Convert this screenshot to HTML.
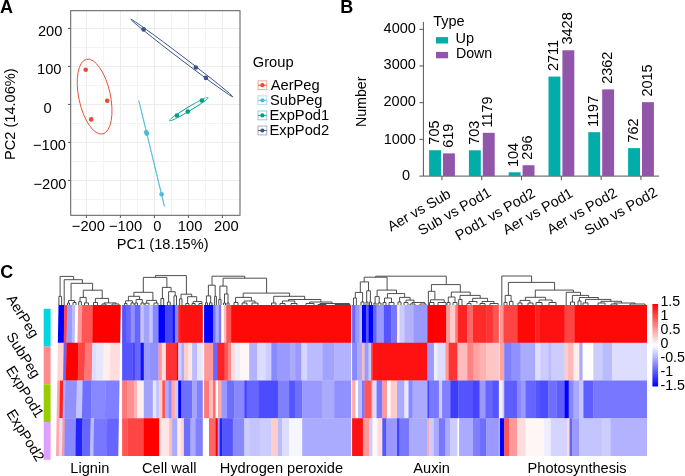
<!DOCTYPE html><html><head><meta charset="utf-8"><style>html,body{margin:0;padding:0;background:#fff;overflow:hidden}svg{display:block;font-family:"Liberation Sans",sans-serif;will-change:transform}</style></head><body>
<svg width="685" height="476" viewBox="0 0 685 476">
<rect width="685" height="476" fill="#fff"/>
<text x="-0.10" y="12.55" font-size="18" font-weight="bold" fill="#000" >A</text>
<line x1="103.50" y1="10.70" x2="103.50" y2="215.30" stroke="#F3F3F3" stroke-width="1" />
<line x1="137.50" y1="10.70" x2="137.50" y2="215.30" stroke="#F3F3F3" stroke-width="1" />
<line x1="171.50" y1="10.70" x2="171.50" y2="215.30" stroke="#F3F3F3" stroke-width="1" />
<line x1="205.50" y1="10.70" x2="205.50" y2="215.30" stroke="#F3F3F3" stroke-width="1" />
<line x1="70.70" y1="199.50" x2="240.00" y2="199.50" stroke="#F3F3F3" stroke-width="1" />
<line x1="70.70" y1="161.50" x2="240.00" y2="161.50" stroke="#F3F3F3" stroke-width="1" />
<line x1="70.70" y1="123.50" x2="240.00" y2="123.50" stroke="#F3F3F3" stroke-width="1" />
<line x1="70.70" y1="85.50" x2="240.00" y2="85.50" stroke="#F3F3F3" stroke-width="1" />
<line x1="70.70" y1="47.50" x2="240.00" y2="47.50" stroke="#F3F3F3" stroke-width="1" />
<line x1="86.50" y1="10.70" x2="86.50" y2="215.30" stroke="#ECECEC" stroke-width="1" />
<line x1="70.70" y1="180.50" x2="240.00" y2="180.50" stroke="#ECECEC" stroke-width="1" />
<line x1="120.50" y1="10.70" x2="120.50" y2="215.30" stroke="#ECECEC" stroke-width="1" />
<line x1="70.70" y1="142.50" x2="240.00" y2="142.50" stroke="#ECECEC" stroke-width="1" />
<line x1="154.50" y1="10.70" x2="154.50" y2="215.30" stroke="#ECECEC" stroke-width="1" />
<line x1="70.70" y1="104.50" x2="240.00" y2="104.50" stroke="#ECECEC" stroke-width="1" />
<line x1="188.50" y1="10.70" x2="188.50" y2="215.30" stroke="#ECECEC" stroke-width="1" />
<line x1="70.70" y1="66.50" x2="240.00" y2="66.50" stroke="#ECECEC" stroke-width="1" />
<line x1="222.50" y1="10.70" x2="222.50" y2="215.30" stroke="#ECECEC" stroke-width="1" />
<line x1="70.70" y1="28.50" x2="240.00" y2="28.50" stroke="#ECECEC" stroke-width="1" />
<rect x="70.7" y="10.7" width="169.30" height="204.60" fill="none" stroke="#5a5a5a" stroke-width="1"/>
<line x1="68.00" y1="180.40" x2="70.70" y2="180.40" stroke="#555" stroke-width="1" />
<line x1="86.40" y1="215.30" x2="86.40" y2="218.00" stroke="#555" stroke-width="1" />
<line x1="68.00" y1="142.40" x2="70.70" y2="142.40" stroke="#555" stroke-width="1" />
<line x1="120.40" y1="215.30" x2="120.40" y2="218.00" stroke="#555" stroke-width="1" />
<line x1="68.00" y1="104.40" x2="70.70" y2="104.40" stroke="#555" stroke-width="1" />
<line x1="154.40" y1="215.30" x2="154.40" y2="218.00" stroke="#555" stroke-width="1" />
<line x1="68.00" y1="66.40" x2="70.70" y2="66.40" stroke="#555" stroke-width="1" />
<line x1="188.40" y1="215.30" x2="188.40" y2="218.00" stroke="#555" stroke-width="1" />
<line x1="68.00" y1="28.40" x2="70.70" y2="28.40" stroke="#555" stroke-width="1" />
<line x1="222.40" y1="215.30" x2="222.40" y2="218.00" stroke="#555" stroke-width="1" />
<text x="37.95" y="35.75" font-size="14.7" fill="#000" >200</text>
<text x="37.02" y="74.00" font-size="14.7" fill="#000" >100</text>
<text x="43.55" y="112.65" font-size="14.7" fill="#000" >0</text>
<text x="32.90" y="150.40" font-size="14.7" fill="#000" >−100</text>
<text x="33.45" y="188.70" font-size="14.7" fill="#000" >−200</text>
<text x="71.85" y="230.85" font-size="14.7" fill="#000" >−200</text>
<text x="109.05" y="230.85" font-size="14.7" fill="#000" >−100</text>
<text x="153.30" y="230.85" font-size="14.7" fill="#000" >0</text>
<text x="177.87" y="230.85" font-size="14.7" fill="#000" >100</text>
<text x="214.05" y="230.85" font-size="14.7" fill="#000" >200</text>
<text x="116.86" y="249.24" font-size="14.6" fill="#000" >PC1 (18.15%)</text>
<text x="-45.99" y="3.78" font-size="14.6" transform="translate(11.25 114.00) rotate(-90)">PC2 (14.06%)</text>
<ellipse cx="94.60" cy="96.60" rx="38.20" ry="15.80" fill="none" stroke="#E64B35" stroke-width="0.9" transform="rotate(77.90 94.60 96.60)"/>
<circle cx="85.7" cy="69.8" r="2.3" fill="#E64B35"/>
<circle cx="107.2" cy="100.7" r="2.3" fill="#E64B35"/>
<circle cx="91.2" cy="119.4" r="2.3" fill="#E64B35"/>
<ellipse cx="181.90" cy="58.10" rx="64.00" ry="1.75" fill="none" stroke="#3C5488" stroke-width="0.9" transform="rotate(37.25 181.90 58.10)"/>
<circle cx="143.6" cy="29.4" r="2.3" fill="#3C5488"/>
<circle cx="195.9" cy="67.5" r="2.3" fill="#3C5488"/>
<circle cx="205.9" cy="77.9" r="2.3" fill="#3C5488"/>
<ellipse cx="188.85" cy="109.05" rx="22.40" ry="1.90" fill="none" stroke="#00A087" stroke-width="0.9" transform="rotate(-31.10 188.85 109.05)"/>
<circle cx="176.9" cy="115.5" r="2.3" fill="#00A087"/>
<circle cx="187.8" cy="111.6" r="2.3" fill="#00A087"/>
<circle cx="201.9" cy="100.5" r="2.3" fill="#00A087"/>
<ellipse cx="151.65" cy="153.55" rx="54.58" ry="0.10" fill="none" stroke="#4DBBD5" stroke-width="0.7" transform="rotate(76.38 151.65 153.55)"/>
<circle cx="146.2" cy="132.2" r="2.3" fill="#4DBBD5"/>
<circle cx="146.9" cy="133.6" r="2.3" fill="#4DBBD5"/>
<circle cx="161.6" cy="194.2" r="2.3" fill="#4DBBD5"/>
<text x="252.81" y="66.80" font-size="14.7" fill="#000" >Group</text>
<rect x="258.0" y="80.80" width="8.8" height="8.8" fill="none" stroke="#E64B35" stroke-opacity="0.5" stroke-width="0.9"/>
<line x1="258.00" y1="85.20" x2="266.80" y2="85.20" stroke="#E64B35" stroke-width="0.9" />
<circle cx="262.4" cy="85.20" r="2.1" fill="#E64B35"/>
<text x="270.71" y="89.90" font-size="14.7" fill="#000" >AerPeg</text>
<rect x="258.0" y="95.90" width="8.8" height="8.8" fill="none" stroke="#4DBBD5" stroke-opacity="0.5" stroke-width="0.9"/>
<line x1="258.00" y1="100.30" x2="266.80" y2="100.30" stroke="#4DBBD5" stroke-width="0.9" />
<circle cx="262.4" cy="100.30" r="2.1" fill="#4DBBD5"/>
<text x="270.09" y="105.00" font-size="14.7" fill="#000" >SubPeg</text>
<rect x="258.0" y="111.00" width="8.8" height="8.8" fill="none" stroke="#00A087" stroke-opacity="0.5" stroke-width="0.9"/>
<line x1="258.00" y1="115.40" x2="266.80" y2="115.40" stroke="#00A087" stroke-width="0.9" />
<circle cx="262.4" cy="115.40" r="2.1" fill="#00A087"/>
<text x="269.54" y="120.10" font-size="14.7" fill="#000" >ExpPod1</text>
<rect x="258.0" y="126.10" width="8.8" height="8.8" fill="none" stroke="#3C5488" stroke-opacity="0.5" stroke-width="0.9"/>
<line x1="258.00" y1="130.50" x2="266.80" y2="130.50" stroke="#3C5488" stroke-width="0.9" />
<circle cx="262.4" cy="130.50" r="2.1" fill="#3C5488"/>
<text x="269.54" y="135.20" font-size="14.7" fill="#000" >ExpPod2</text>
<text x="340.14" y="12.75" font-size="18" font-weight="bold" fill="#000" >B</text>
<line x1="423.40" y1="21.90" x2="423.40" y2="176.10" stroke="#555" stroke-width="1" />
<line x1="423.40" y1="176.10" x2="659.00" y2="176.10" stroke="#555" stroke-width="1" />
<line x1="419.40" y1="29.30" x2="423.40" y2="29.30" stroke="#555" stroke-width="1" />
<text x="383.60" y="33.23" font-size="14.5" fill="#000" >4000</text>
<line x1="419.40" y1="66.00" x2="423.40" y2="66.00" stroke="#555" stroke-width="1" />
<text x="383.59" y="69.43" font-size="14.5" fill="#000" >3000</text>
<line x1="419.40" y1="102.70" x2="423.40" y2="102.70" stroke="#555" stroke-width="1" />
<text x="383.50" y="106.23" font-size="14.5" fill="#000" >2000</text>
<line x1="419.40" y1="139.40" x2="423.40" y2="139.40" stroke="#555" stroke-width="1" />
<text x="383.67" y="143.63" font-size="14.5" fill="#000" >1000</text>
<line x1="419.40" y1="176.10" x2="423.40" y2="176.10" stroke="#555" stroke-width="1" />
<text x="402.06" y="180.33" font-size="14.5" fill="#000" >0</text>
<rect x="429.10" y="150.23" width="11.90" height="25.87" fill="#00ADA8" />
<rect x="443.00" y="153.38" width="11.90" height="22.72" fill="#9155AA" />
<line x1="441.95" y1="176.10" x2="441.95" y2="180.10" stroke="#555" stroke-width="1" />
<text x="-12.18" y="4.98" font-size="14.5" transform="translate(433.75 132.51) rotate(-90)">705</text>
<text x="-12.13" y="4.98" font-size="14.5" transform="translate(447.65 135.68) rotate(-90)">619</text>
<rect x="468.90" y="150.30" width="11.90" height="25.80" fill="#00ADA8" />
<rect x="482.80" y="132.83" width="11.90" height="43.27" fill="#9155AA" />
<line x1="481.75" y1="176.10" x2="481.75" y2="180.10" stroke="#555" stroke-width="1" />
<text x="-12.16" y="4.98" font-size="14.5" transform="translate(473.55 132.60) rotate(-90)">703</text>
<text x="-15.81" y="4.98" font-size="14.5" transform="translate(487.45 111.81) rotate(-90)">1179</text>
<rect x="508.70" y="172.28" width="11.90" height="3.82" fill="#00ADA8" />
<rect x="522.60" y="165.24" width="11.90" height="10.86" fill="#9155AA" />
<line x1="521.55" y1="176.10" x2="521.55" y2="180.10" stroke="#555" stroke-width="1" />
<text x="-12.43" y="4.98" font-size="14.5" transform="translate(513.35 154.64) rotate(-90)">104</text>
<text x="-12.14" y="4.98" font-size="14.5" transform="translate(527.25 147.52) rotate(-90)">296</text>
<rect x="548.50" y="76.61" width="11.90" height="99.49" fill="#00ADA8" />
<rect x="562.40" y="50.29" width="11.90" height="125.81" fill="#9155AA" />
<line x1="561.35" y1="176.10" x2="561.35" y2="180.10" stroke="#555" stroke-width="1" />
<text x="-15.61" y="5.06" font-size="14.5" transform="translate(553.15 55.43) rotate(-90)">2711</text>
<text x="-16.08" y="4.98" font-size="14.5" transform="translate(567.05 28.46) rotate(-90)">3428</text>
<rect x="588.30" y="132.17" width="11.90" height="43.93" fill="#00ADA8" />
<rect x="602.20" y="89.41" width="11.90" height="86.69" fill="#9155AA" />
<line x1="601.15" y1="176.10" x2="601.15" y2="180.10" stroke="#555" stroke-width="1" />
<text x="-15.77" y="4.98" font-size="14.5" transform="translate(592.95 111.19) rotate(-90)">1197</text>
<text x="-16.11" y="4.98" font-size="14.5" transform="translate(606.85 67.73) rotate(-90)">2362</text>
<rect x="628.10" y="148.13" width="11.90" height="27.97" fill="#00ADA8" />
<rect x="642.00" y="102.15" width="11.90" height="73.95" fill="#9155AA" />
<line x1="640.95" y1="176.10" x2="640.95" y2="180.10" stroke="#555" stroke-width="1" />
<text x="-12.11" y="4.98" font-size="14.5" transform="translate(632.75 130.49) rotate(-90)">762</text>
<text x="-16.19" y="4.98" font-size="14.5" transform="translate(646.65 80.39) rotate(-90)">2015</text>
<text x="-34.82" y="5.13" font-size="14.35" transform="translate(418.60 209.95) rotate(-30)">Aer vs Sub</text>
<text x="-40.66" y="5.13" font-size="14.35" transform="translate(454.25 211.05) rotate(-30)">Sub vs Pod1</text>
<text x="-44.90" y="5.13" font-size="14.35" transform="translate(495.00 213.75) rotate(-30)">Pod1 vs Pod2</text>
<text x="-38.75" y="5.13" font-size="14.35" transform="translate(537.30 211.25) rotate(-30)">Aer vs Pod1</text>
<text x="-38.73" y="5.13" font-size="14.35" transform="translate(581.35 210.90) rotate(-30)">Aer vs Pod2</text>
<text x="-40.65" y="5.13" font-size="14.35" transform="translate(620.60 211.00) rotate(-30)">Sub vs Pod2</text>
<text x="-25.72" y="5.08" font-size="14.2" transform="translate(361.35 101.30) rotate(-90)">Number</text>
<text x="433.22" y="25.72" font-size="14.5" fill="#000" >Type</text>
<rect x="436.00" y="37.10" width="12.10" height="6.40" fill="#00ADA8" />
<text x="455.43" y="42.72" font-size="14.5" fill="#000" >Up</text>
<rect x="436.00" y="51.90" width="12.10" height="6.40" fill="#9155AA" />
<text x="455.98" y="58.41" font-size="14.2" fill="#000" >Down</text>
<g transform="translate(0,305) skewX(-0.95) translate(0,-305)"><rect x="58.50" y="305.00" width="6.10" height="38.05" fill="#0000ff"/><rect x="64.30" y="305.00" width="3.10" height="38.05" fill="#ff4444"/><rect x="67.10" y="305.00" width="5.60" height="38.05" fill="#9999ff"/><rect x="72.40" y="305.00" width="3.20" height="38.05" fill="#bbbbff"/><rect x="75.30" y="305.00" width="3.10" height="38.05" fill="#ffffff"/><rect x="78.10" y="305.00" width="4.40" height="38.05" fill="#ff9999"/><rect x="82.20" y="305.00" width="11.00" height="38.05" fill="#ff5555"/><rect x="92.90" y="305.00" width="27.90" height="38.05" fill="#ff0000"/></g>
<rect x="122.10" y="305.00" width="4.80" height="38.05" fill="#5555ff"/><rect x="126.60" y="305.00" width="4.40" height="38.05" fill="#6666ff"/><rect x="130.70" y="305.00" width="4.40" height="38.05" fill="#9090ff"/><rect x="134.80" y="305.00" width="6.00" height="38.05" fill="#6666ff"/><rect x="140.50" y="305.00" width="3.60" height="38.05" fill="#c4c4ff"/><rect x="143.80" y="305.00" width="6.00" height="38.05" fill="#a2a2ff"/><rect x="149.50" y="305.00" width="3.60" height="38.05" fill="#c4c4ff"/><rect x="152.80" y="305.00" width="6.00" height="38.05" fill="#8888ff"/><rect x="158.50" y="305.00" width="6.90" height="38.05" fill="#0000ff"/><rect x="165.10" y="305.00" width="7.70" height="38.05" fill="#4444ff"/><rect x="172.50" y="305.00" width="2.70" height="38.05" fill="#1111ff"/><rect x="174.90" y="305.00" width="3.60" height="38.05" fill="#8888ff"/><rect x="178.20" y="305.00" width="2.80" height="38.05" fill="#ff2222"/><rect x="180.70" y="305.00" width="22.10" height="38.05" fill="#ff1111"/>
<rect x="204.10" y="305.00" width="9.30" height="38.05" fill="#0000ff"/><rect x="213.10" y="305.00" width="2.80" height="38.05" fill="#7777ff"/><rect x="215.60" y="305.00" width="3.60" height="38.05" fill="#aaaaff"/><rect x="218.90" y="305.00" width="2.70" height="38.05" fill="#7777ff"/><rect x="221.30" y="305.00" width="2.80" height="38.05" fill="#ffffff"/><rect x="223.80" y="305.00" width="2.70" height="38.05" fill="#ffbbbb"/><rect x="226.20" y="305.00" width="5.20" height="38.05" fill="#ff5555"/><rect x="231.10" y="305.00" width="120.00" height="38.05" fill="#ff0808"/>
<rect x="352.10" y="305.00" width="3.70" height="38.05" fill="#6666ff"/><rect x="355.50" y="305.00" width="4.40" height="38.05" fill="#9999ff"/><rect x="359.60" y="305.00" width="2.70" height="38.05" fill="#bbbbff"/><rect x="362.00" y="305.00" width="4.40" height="38.05" fill="#0000ff"/><rect x="366.10" y="305.00" width="2.80" height="38.05" fill="#5555ff"/><rect x="368.60" y="305.00" width="5.00" height="38.05" fill="#0000ff"/><rect x="373.30" y="305.00" width="3.60" height="38.05" fill="#6666ff"/><rect x="376.60" y="305.00" width="7.60" height="38.05" fill="#9999ff"/><rect x="383.90" y="305.00" width="7.70" height="38.05" fill="#5555ff"/><rect x="391.30" y="305.00" width="6.00" height="38.05" fill="#7777ff"/><rect x="397.00" y="305.00" width="2.80" height="38.05" fill="#ffeeee"/><rect x="399.50" y="305.00" width="5.20" height="38.05" fill="#ccccff"/><rect x="404.40" y="305.00" width="9.30" height="38.05" fill="#b2b2ff"/><rect x="413.40" y="305.00" width="14.30" height="38.05" fill="#9999ff"/><rect x="427.40" y="305.00" width="19.10" height="38.05" fill="#ff0000"/><rect x="446.20" y="305.00" width="4.40" height="38.05" fill="#ff9999"/><rect x="450.30" y="305.00" width="5.20" height="38.05" fill="#ffcccc"/><rect x="455.20" y="305.00" width="3.10" height="38.05" fill="#ff7777"/><rect x="458.00" y="305.00" width="9.60" height="38.05" fill="#ff2222"/><rect x="467.30" y="305.00" width="6.00" height="38.05" fill="#ff6666"/><rect x="473.00" y="305.00" width="13.40" height="38.05" fill="#ff2a2a"/><rect x="486.10" y="305.00" width="6.90" height="38.05" fill="#ff3333"/><rect x="492.70" y="305.00" width="6.20" height="38.05" fill="#ff5555"/>
<rect x="499.70" y="305.00" width="4.00" height="38.05" fill="#ff9999"/><rect x="503.40" y="305.00" width="14.20" height="38.05" fill="#ff4444"/><rect x="517.30" y="305.00" width="18.30" height="38.05" fill="#ff0808"/><rect x="535.30" y="305.00" width="5.00" height="38.05" fill="#ff2222"/><rect x="540.00" y="305.00" width="24.90" height="38.05" fill="#ff1111"/><rect x="564.60" y="305.00" width="10.10" height="38.05" fill="#ff4444"/><rect x="574.40" y="305.00" width="72.60" height="38.05" fill="#ff0808"/>
<g transform="translate(0,305) skewX(-0.95) translate(0,-305)"><rect x="58.50" y="342.75" width="6.10" height="38.05" fill="#ffd4d4"/><rect x="64.30" y="342.75" width="3.10" height="38.05" fill="#6666ff"/><rect x="67.10" y="342.75" width="12.20" height="38.05" fill="#ff0000"/><rect x="79.00" y="342.75" width="6.90" height="38.05" fill="#ff4444"/><rect x="85.60" y="342.75" width="7.70" height="38.05" fill="#ff7777"/><rect x="93.00" y="342.75" width="4.40" height="38.05" fill="#ddddff"/><rect x="97.10" y="342.75" width="7.60" height="38.05" fill="#e6e6ff"/><rect x="104.40" y="342.75" width="6.90" height="38.05" fill="#ffeeee"/><rect x="111.00" y="342.75" width="9.80" height="38.05" fill="#ffdddd"/></g>
<rect x="122.10" y="342.75" width="10.50" height="38.05" fill="#5555ff"/><rect x="132.30" y="342.75" width="2.80" height="38.05" fill="#4444ff"/><rect x="134.80" y="342.75" width="6.00" height="38.05" fill="#6666ff"/><rect x="140.50" y="342.75" width="3.60" height="38.05" fill="#1111ff"/><rect x="143.80" y="342.75" width="6.00" height="38.05" fill="#9999ff"/><rect x="149.50" y="342.75" width="9.30" height="38.05" fill="#9090ff"/><rect x="158.50" y="342.75" width="3.60" height="38.05" fill="#ff9999"/><rect x="161.80" y="342.75" width="4.40" height="38.05" fill="#ffdddd"/><rect x="165.90" y="342.75" width="11.00" height="38.05" fill="#ff3333"/><rect x="176.60" y="342.75" width="1.90" height="38.05" fill="#ff0000"/><rect x="178.20" y="342.75" width="3.60" height="38.05" fill="#ccccff"/><rect x="181.50" y="342.75" width="2.70" height="38.05" fill="#aaaaff"/><rect x="183.90" y="342.75" width="4.40" height="38.05" fill="#ffcccc"/><rect x="188.00" y="342.75" width="4.40" height="38.05" fill="#ffe6e6"/><rect x="192.10" y="342.75" width="5.20" height="38.05" fill="#bbbbff"/><rect x="197.00" y="342.75" width="5.80" height="38.05" fill="#e6e6ff"/>
<rect x="204.10" y="342.75" width="9.30" height="38.05" fill="#ff9999"/><rect x="213.10" y="342.75" width="4.90" height="38.05" fill="#6666ff"/><rect x="217.70" y="342.75" width="7.20" height="38.05" fill="#ff2222"/><rect x="224.60" y="342.75" width="3.60" height="38.05" fill="#ff5555"/><rect x="227.90" y="342.75" width="3.50" height="38.05" fill="#ff8888"/><rect x="231.10" y="342.75" width="4.40" height="38.05" fill="#ffdddd"/><rect x="235.20" y="342.75" width="5.30" height="38.05" fill="#eeeeff"/><rect x="240.20" y="342.75" width="9.30" height="38.05" fill="#fff6f6"/><rect x="249.20" y="342.75" width="8.50" height="38.05" fill="#b2b2ff"/><rect x="257.40" y="342.75" width="8.50" height="38.05" fill="#ddddff"/><rect x="265.60" y="342.75" width="6.00" height="38.05" fill="#ccccff"/><rect x="271.30" y="342.75" width="6.00" height="38.05" fill="#8888ff"/><rect x="277.00" y="342.75" width="13.20" height="38.05" fill="#9999ff"/><rect x="289.90" y="342.75" width="6.10" height="38.05" fill="#aaaaff"/><rect x="295.70" y="342.75" width="6.00" height="38.05" fill="#9999ff"/><rect x="301.40" y="342.75" width="6.00" height="38.05" fill="#d4d4ff"/><rect x="307.10" y="342.75" width="15.90" height="38.05" fill="#bbbbff"/><rect x="322.70" y="342.75" width="11.80" height="38.05" fill="#a2a2ff"/><rect x="334.20" y="342.75" width="16.90" height="38.05" fill="#b2b2ff"/>
<rect x="352.10" y="342.75" width="5.30" height="38.05" fill="#8888ff"/><rect x="357.10" y="342.75" width="5.20" height="38.05" fill="#aaaaff"/><rect x="362.00" y="342.75" width="2.80" height="38.05" fill="#ffbbbb"/><rect x="364.50" y="342.75" width="4.40" height="38.05" fill="#9999ff"/><rect x="368.60" y="342.75" width="2.80" height="38.05" fill="#ccccff"/><rect x="371.10" y="342.75" width="1.70" height="38.05" fill="#ff4444"/><rect x="372.50" y="342.75" width="55.20" height="38.05" fill="#ff1111"/><rect x="427.40" y="342.75" width="6.80" height="38.05" fill="#9999ff"/><rect x="433.90" y="342.75" width="3.60" height="38.05" fill="#eeeeff"/><rect x="437.20" y="342.75" width="8.50" height="38.05" fill="#ddddff"/><rect x="445.40" y="342.75" width="3.60" height="38.05" fill="#ff9999"/><rect x="448.70" y="342.75" width="9.10" height="38.05" fill="#ff3333"/><rect x="457.50" y="342.75" width="10.10" height="38.05" fill="#ffbbbb"/><rect x="467.30" y="342.75" width="6.00" height="38.05" fill="#ff8080"/><rect x="473.00" y="342.75" width="6.90" height="38.05" fill="#ffa2a2"/><rect x="479.60" y="342.75" width="6.80" height="38.05" fill="#ffb2b2"/><rect x="486.10" y="342.75" width="12.80" height="38.05" fill="#ffc4c4"/>
<rect x="499.70" y="342.75" width="4.80" height="38.05" fill="#ffa2a2"/><rect x="504.20" y="342.75" width="7.70" height="38.05" fill="#8080ff"/><rect x="511.60" y="342.75" width="9.30" height="38.05" fill="#9090ff"/><rect x="520.60" y="342.75" width="15.00" height="38.05" fill="#aaaaff"/><rect x="535.30" y="342.75" width="5.20" height="38.05" fill="#ddddff"/><rect x="540.20" y="342.75" width="8.30" height="38.05" fill="#ccccff"/><rect x="548.20" y="342.75" width="3.60" height="38.05" fill="#bbbbff"/><rect x="551.50" y="342.75" width="13.40" height="38.05" fill="#ccccff"/><rect x="564.60" y="342.75" width="3.60" height="38.05" fill="#ffcccc"/><rect x="567.90" y="342.75" width="6.00" height="38.05" fill="#ffbbbb"/><rect x="573.60" y="342.75" width="6.00" height="38.05" fill="#ffeeee"/><rect x="579.30" y="342.75" width="3.60" height="38.05" fill="#aaaaff"/><rect x="582.60" y="342.75" width="11.00" height="38.05" fill="#fffcfc"/><rect x="593.30" y="342.75" width="9.30" height="38.05" fill="#ccccff"/><rect x="602.30" y="342.75" width="10.10" height="38.05" fill="#bbbbff"/><rect x="612.10" y="342.75" width="34.90" height="38.05" fill="#ddddff"/>
<g transform="translate(0,305) skewX(-0.95) translate(0,-305)"><rect x="58.50" y="380.50" width="3.00" height="38.05" fill="#ffaaaa"/><rect x="61.20" y="380.50" width="3.60" height="38.05" fill="#ff2222"/><rect x="64.50" y="380.50" width="2.40" height="38.05" fill="#aaaaff"/><rect x="66.60" y="380.50" width="11.80" height="38.05" fill="#9090ff"/><rect x="78.10" y="380.50" width="6.00" height="38.05" fill="#c4c4ff"/><rect x="83.80" y="380.50" width="9.30" height="38.05" fill="#6e6eff"/><rect x="92.80" y="380.50" width="14.30" height="38.05" fill="#8888ff"/><rect x="106.80" y="380.50" width="14.00" height="38.05" fill="#8080ff"/></g>
<rect x="122.10" y="380.50" width="5.60" height="38.05" fill="#ff7777"/><rect x="127.40" y="380.50" width="6.80" height="38.05" fill="#ff9090"/><rect x="133.90" y="380.50" width="3.60" height="38.05" fill="#ffb2b2"/><rect x="137.20" y="380.50" width="6.90" height="38.05" fill="#ffeeee"/><rect x="143.80" y="380.50" width="9.30" height="38.05" fill="#a2a2ff"/><rect x="152.80" y="380.50" width="3.60" height="38.05" fill="#e6e6ff"/><rect x="156.10" y="380.50" width="3.50" height="38.05" fill="#c4c4ff"/><rect x="159.30" y="380.50" width="3.30" height="38.05" fill="#ffcccc"/><rect x="162.30" y="380.50" width="3.10" height="38.05" fill="#ff5555"/><rect x="165.10" y="380.50" width="3.60" height="38.05" fill="#aaaaff"/><rect x="168.40" y="380.50" width="3.50" height="38.05" fill="#8888ff"/><rect x="171.60" y="380.50" width="3.60" height="38.05" fill="#ffaaaa"/><rect x="174.90" y="380.50" width="3.60" height="38.05" fill="#ccccff"/><rect x="178.20" y="380.50" width="3.10" height="38.05" fill="#0000ff"/><rect x="181.00" y="380.50" width="11.40" height="38.05" fill="#6e6eff"/><rect x="192.10" y="380.50" width="5.20" height="38.05" fill="#a2a2ff"/><rect x="197.00" y="380.50" width="5.80" height="38.05" fill="#8080ff"/>
<rect x="204.10" y="380.50" width="5.20" height="38.05" fill="#ff7777"/><rect x="209.00" y="380.50" width="4.40" height="38.05" fill="#ffbbbb"/><rect x="213.10" y="380.50" width="2.80" height="38.05" fill="#ff6666"/><rect x="215.60" y="380.50" width="2.70" height="38.05" fill="#ffffff"/><rect x="218.00" y="380.50" width="3.60" height="38.05" fill="#ffaaaa"/><rect x="221.30" y="380.50" width="6.00" height="38.05" fill="#9999ff"/><rect x="227.00" y="380.50" width="7.70" height="38.05" fill="#6e6eff"/><rect x="234.40" y="380.50" width="10.20" height="38.05" fill="#8888ff"/><rect x="244.30" y="380.50" width="2.70" height="38.05" fill="#4444ff"/><rect x="246.70" y="380.50" width="11.80" height="38.05" fill="#6666ff"/><rect x="258.20" y="380.50" width="20.00" height="38.05" fill="#4c4cff"/><rect x="277.90" y="380.50" width="11.50" height="38.05" fill="#8080ff"/><rect x="289.10" y="380.50" width="6.00" height="38.05" fill="#5555ff"/><rect x="294.80" y="380.50" width="7.70" height="38.05" fill="#6e6eff"/><rect x="302.20" y="380.50" width="20.00" height="38.05" fill="#9999ff"/><rect x="321.90" y="380.50" width="12.60" height="38.05" fill="#aaaaff"/><rect x="334.20" y="380.50" width="16.90" height="38.05" fill="#9090ff"/>
<rect x="352.10" y="380.50" width="3.70" height="38.05" fill="#ffaaaa"/><rect x="355.50" y="380.50" width="2.80" height="38.05" fill="#ffffff"/><rect x="358.00" y="380.50" width="4.30" height="38.05" fill="#bbbbff"/><rect x="362.00" y="380.50" width="2.80" height="38.05" fill="#7777ff"/><rect x="364.50" y="380.50" width="6.80" height="38.05" fill="#ff5555"/><rect x="371.00" y="380.50" width="1.80" height="38.05" fill="#ff8888"/><rect x="372.50" y="380.50" width="4.40" height="38.05" fill="#ddddff"/><rect x="376.60" y="380.50" width="6.00" height="38.05" fill="#7777ff"/><rect x="382.30" y="380.50" width="5.20" height="38.05" fill="#ff9999"/><rect x="387.20" y="380.50" width="3.60" height="38.05" fill="#ffffff"/><rect x="390.50" y="380.50" width="6.80" height="38.05" fill="#ffcccc"/><rect x="397.00" y="380.50" width="7.70" height="38.05" fill="#aaaaff"/><rect x="404.40" y="380.50" width="4.40" height="38.05" fill="#e6e6ff"/><rect x="408.50" y="380.50" width="4.40" height="38.05" fill="#8888ff"/><rect x="412.60" y="380.50" width="15.10" height="38.05" fill="#aaaaff"/><rect x="427.40" y="380.50" width="1.90" height="38.05" fill="#4444ff"/><rect x="429.00" y="380.50" width="10.20" height="38.05" fill="#7777ff"/><rect x="438.90" y="380.50" width="3.50" height="38.05" fill="#ccccff"/><rect x="442.10" y="380.50" width="8.50" height="38.05" fill="#8080ff"/><rect x="450.30" y="380.50" width="8.30" height="38.05" fill="#3c3cff"/><rect x="458.30" y="380.50" width="15.00" height="38.05" fill="#5555ff"/><rect x="473.00" y="380.50" width="6.90" height="38.05" fill="#4444ff"/><rect x="479.60" y="380.50" width="6.00" height="38.05" fill="#9999ff"/><rect x="485.30" y="380.50" width="7.70" height="38.05" fill="#6666ff"/><rect x="492.70" y="380.50" width="6.20" height="38.05" fill="#5555ff"/>
<rect x="499.70" y="380.50" width="3.10" height="38.05" fill="#ffeeee"/><rect x="502.50" y="380.50" width="2.00" height="38.05" fill="#ccccff"/><rect x="504.20" y="380.50" width="13.10" height="38.05" fill="#5e5eff"/><rect x="517.00" y="380.50" width="4.30" height="38.05" fill="#8888ff"/><rect x="521.00" y="380.50" width="4.80" height="38.05" fill="#9999ff"/><rect x="525.50" y="380.50" width="10.10" height="38.05" fill="#6666ff"/><rect x="535.30" y="380.50" width="5.00" height="38.05" fill="#5555ff"/><rect x="540.00" y="380.50" width="8.50" height="38.05" fill="#4c4cff"/><rect x="548.20" y="380.50" width="8.50" height="38.05" fill="#6e6eff"/><rect x="556.40" y="380.50" width="8.50" height="38.05" fill="#5e5eff"/><rect x="564.60" y="380.50" width="4.40" height="38.05" fill="#0000ff"/><rect x="568.70" y="380.50" width="5.20" height="38.05" fill="#8888ff"/><rect x="573.60" y="380.50" width="6.00" height="38.05" fill="#aaaaff"/><rect x="579.30" y="380.50" width="4.40" height="38.05" fill="#c4c4ff"/><rect x="583.40" y="380.50" width="10.20" height="38.05" fill="#5e5eff"/><rect x="593.30" y="380.50" width="53.70" height="38.05" fill="#7777ff"/>
<g transform="translate(0,305) skewX(-0.95) translate(0,-305)"><rect x="58.50" y="418.25" width="3.30" height="37.75" fill="#ffaaaa"/><rect x="61.50" y="418.25" width="3.20" height="37.75" fill="#ddddff"/><rect x="64.40" y="418.25" width="2.60" height="37.75" fill="#ff9999"/><rect x="66.70" y="418.25" width="11.50" height="37.75" fill="#8888ff"/><rect x="77.90" y="418.25" width="6.80" height="37.75" fill="#2222ff"/><rect x="84.40" y="418.25" width="8.50" height="37.75" fill="#6666ff"/><rect x="92.60" y="418.25" width="3.60" height="37.75" fill="#bbbbff"/><rect x="95.90" y="418.25" width="13.40" height="37.75" fill="#7777ff"/><rect x="109.00" y="418.25" width="11.80" height="37.75" fill="#6666ff"/></g>
<rect x="122.10" y="418.25" width="5.60" height="37.75" fill="#ff5555"/><rect x="127.40" y="418.25" width="16.70" height="37.75" fill="#ff4444"/><rect x="143.80" y="418.25" width="15.80" height="37.75" fill="#ff0000"/><rect x="159.30" y="418.25" width="3.30" height="37.75" fill="#ffdddd"/><rect x="162.30" y="418.25" width="7.20" height="37.75" fill="#ffe6e6"/><rect x="169.20" y="418.25" width="3.20" height="37.75" fill="#ffbbbb"/><rect x="172.10" y="418.25" width="5.60" height="37.75" fill="#aaaaff"/><rect x="177.40" y="418.25" width="3.60" height="37.75" fill="#ffeeee"/><rect x="180.70" y="418.25" width="3.50" height="37.75" fill="#ffd4d4"/><rect x="183.90" y="418.25" width="6.90" height="37.75" fill="#6e6eff"/><rect x="190.50" y="418.25" width="5.20" height="37.75" fill="#aaaaff"/><rect x="195.40" y="418.25" width="7.40" height="37.75" fill="#8080ff"/>
<rect x="204.10" y="418.25" width="5.20" height="37.75" fill="#ffffff"/><rect x="209.00" y="418.25" width="6.90" height="37.75" fill="#ff6666"/><rect x="215.60" y="418.25" width="2.40" height="37.75" fill="#ff0000"/><rect x="217.70" y="418.25" width="2.30" height="37.75" fill="#9999ff"/><rect x="219.70" y="418.25" width="2.70" height="37.75" fill="#2222ff"/><rect x="222.10" y="418.25" width="11.00" height="37.75" fill="#5555ff"/><rect x="232.80" y="418.25" width="11.80" height="37.75" fill="#8888ff"/><rect x="244.30" y="418.25" width="5.20" height="37.75" fill="#ccccff"/><rect x="249.20" y="418.25" width="10.90" height="37.75" fill="#c4c4ff"/><rect x="259.80" y="418.25" width="11.80" height="37.75" fill="#ccccff"/><rect x="271.30" y="418.25" width="6.90" height="37.75" fill="#ffcccc"/><rect x="277.90" y="418.25" width="4.40" height="37.75" fill="#bbbbff"/><rect x="282.00" y="418.25" width="7.40" height="37.75" fill="#ddddff"/><rect x="289.10" y="418.25" width="13.40" height="37.75" fill="#f6f6ff"/><rect x="302.20" y="418.25" width="48.90" height="37.75" fill="#aaaaff"/>
<rect x="352.10" y="418.25" width="11.10" height="37.75" fill="#ff1111"/><rect x="362.90" y="418.25" width="6.80" height="37.75" fill="#ff9999"/><rect x="369.40" y="418.25" width="3.40" height="37.75" fill="#ccccff"/><rect x="372.50" y="418.25" width="5.20" height="37.75" fill="#fff6f6"/><rect x="377.40" y="418.25" width="5.20" height="37.75" fill="#ffdddd"/><rect x="382.30" y="418.25" width="4.40" height="37.75" fill="#5555ff"/><rect x="386.40" y="418.25" width="10.90" height="37.75" fill="#9999ff"/><rect x="397.00" y="418.25" width="2.80" height="37.75" fill="#4444ff"/><rect x="399.50" y="418.25" width="10.10" height="37.75" fill="#7777ff"/><rect x="409.30" y="418.25" width="18.40" height="37.75" fill="#aaaaff"/><rect x="427.40" y="418.25" width="1.90" height="37.75" fill="#ffaaaa"/><rect x="429.00" y="418.25" width="5.20" height="37.75" fill="#ccccff"/><rect x="433.90" y="418.25" width="5.30" height="37.75" fill="#aaaaff"/><rect x="438.90" y="418.25" width="6.80" height="37.75" fill="#7777ff"/><rect x="445.40" y="418.25" width="5.20" height="37.75" fill="#aaaaff"/><rect x="450.30" y="418.25" width="7.50" height="37.75" fill="#ccccff"/><rect x="457.50" y="418.25" width="1.90" height="37.75" fill="#ffffff"/><rect x="459.10" y="418.25" width="14.20" height="37.75" fill="#aaaaff"/><rect x="473.00" y="418.25" width="6.90" height="37.75" fill="#8080ff"/><rect x="479.60" y="418.25" width="6.80" height="37.75" fill="#6e6eff"/><rect x="486.10" y="418.25" width="12.80" height="37.75" fill="#9999ff"/>
<rect x="499.70" y="418.25" width="4.80" height="37.75" fill="#0000ff"/><rect x="504.20" y="418.25" width="5.20" height="37.75" fill="#ff5555"/><rect x="509.10" y="418.25" width="8.50" height="37.75" fill="#ff9999"/><rect x="517.30" y="418.25" width="8.50" height="37.75" fill="#ffdddd"/><rect x="525.50" y="418.25" width="18.90" height="37.75" fill="#fff6f6"/><rect x="544.10" y="418.25" width="6.90" height="37.75" fill="#eeeeff"/><rect x="550.70" y="418.25" width="16.60" height="37.75" fill="#d4d4ff"/><rect x="567.00" y="418.25" width="2.80" height="37.75" fill="#ffdddd"/><rect x="569.50" y="418.25" width="2.80" height="37.75" fill="#6666ff"/><rect x="572.00" y="418.25" width="7.60" height="37.75" fill="#9999ff"/><rect x="579.30" y="418.25" width="23.30" height="37.75" fill="#c4c4ff"/><rect x="602.30" y="418.25" width="8.50" height="37.75" fill="#ccccff"/><rect x="610.50" y="418.25" width="36.50" height="37.75" fill="#b2b2ff"/>
<path d="M60.1 296.4V276.4H73.6V279.7 M58.9 305.0V296.4H61.6V305.0 M64.2 305.0V279.7H82.4V283.3 M71.1 300.5V283.3H92.6V290.2 M68.5 303.0V300.5H74.4V302.5 M67.5 305.0V303.0H69.5V305.0 M73.0 305.0V302.5H76.0V305.0 M83.3 297.4V290.2H102.2V298.4 M80.0 301.7V297.4H86.2V302.9 M78.7 305.0V301.7H81.4V305.0 M84.5 305.0V302.9H88.5V305.0 M95.4 302.5V298.4H108.6V302.9 M93.5 305.0V302.5H97.5V305.0 M104.0 304.0V302.9H116.0V304.0 M102.0 305.0V304.0H106.0V305.0 M112.0 305.0V304.0H119.0V305.0 M155.4 277.4V275.6H186.4V294.2 M143.3 292.3V277.4H166.9V287.4 M133.9 296.3V292.3H152.9V300.4 M128.4 300.8V296.3H139.6V299.5 M125.6 303.5V300.8H132.4V303.0 M124.5 305.0V303.5H127.0V305.0 M131.0 305.0V303.0H134.0V305.0 M136.1 303.0V299.5H142.3V303.0 M135.0 305.0V303.0H137.5V305.0 M141.0 305.0V303.0H144.0V305.0 M146.7 303.2V300.4H156.6V303.0 M145.0 305.0V303.2H149.0V305.0 M154.0 305.0V303.0H158.0V305.0 M162.4 298.5V287.4H171.1V291.7 M160.9 305.0V298.5H163.7V305.0 M168.6 302.0V291.7H175.2V295.8 M167.4 305.0V302.0H170.2V305.0 M174.0 305.0V295.8H176.5V305.0 M181.0 298.8V294.2H191.7V296.7 M179.6 305.0V298.8H182.0V305.0 M187.6 303.5V296.7H196.7V301.6 M185.8 305.0V303.5H188.9V305.0 M193.2 303.5V301.6H201.9V303.5 M192.0 305.0V303.5H195.0V305.0 M199.0 305.0V303.5H202.0V305.0 M212.0 285.2V276.2H244.7V278.2 M208.4 295.9V285.2H215.2V296.3 M206.4 302.8V295.9H210.7V302.8 M205.5 305.0V302.8H207.5V305.0 M209.5 305.0V302.8H212.0V305.0 M214.6 305.0V296.3H216.4V305.0 M223.1 286.1V278.2H266.6V293.1 M219.9 299.4V286.1H226.9V293.9 M218.8 305.0V299.4H221.0V305.0 M224.5 303.0V293.9H228.0V303.0 M223.5 305.0V303.0H225.5V305.0 M227.0 305.0V303.0H229.0V305.0 M243.2 297.4V293.1H289.6V296.3 M235.6 302.5V297.4H251.4V301.0 M234.0 305.0V302.5H238.0V305.0 M244.0 303.0V301.0H255.0V303.0 M242.0 305.0V303.0H247.0V305.0 M252.0 305.0V303.0H258.0V305.0 M273.7 303.0V296.3H304.7V299.5 M271.5 305.0V303.0H276.0V305.0 M288.6 301.0V299.5H320.9V302.0 M282.4 303.5V301.0H294.8V303.5 M280.0 305.0V303.5H285.0V305.0 M291.0 305.0V303.5H297.0V305.0 M309.7 303.5V302.0H332.0V303.5 M306.0 305.0V303.5H314.0V305.0 M320.0 304.5V303.5H349.4V304.5 M318.0 305.0V304.5H326.0V305.0 M335.0 305.0V304.5H350.0V305.0 M375.7 277.2V276.2H446.3V284.6 M364.2 281.9V277.2H387.1V290.1 M360.3 292.4V281.9H368.5V290.8 M355.3 298.0V292.4H362.6V302.0 M353.5 305.0V298.0H356.4V305.0 M361.0 305.0V302.0H364.0V305.0 M366.7 302.0V290.8H370.4V302.0 M366.0 305.0V302.0H368.0V305.0 M369.5 305.0V302.0H371.5V305.0 M377.1 296.6V290.1H396.5V293.6 M375.1 303.0V296.6H379.2V303.0 M374.0 305.0V303.0H376.0V305.0 M378.0 305.0V303.0H381.0V305.0 M387.4 298.0V293.6H404.7V297.4 M384.5 302.5V298.0H391.5V302.5 M383.0 305.0V302.5H386.0V305.0 M389.0 305.0V302.5H394.0V305.0 M399.6 302.0V297.4H410.1V300.1 M398.0 305.0V302.0H401.0V305.0 M406.0 302.5V300.1H414.0V302.5 M404.0 305.0V302.5H408.0V305.0 M412.0 304.0V302.5H424.7V304.0 M410.0 305.0V304.0H415.0V305.0 M420.0 305.0V304.0H426.0V305.0 M431.4 291.3V284.6H460.3V292.1 M428.4 305.0V291.3H434.9V299.8 M430.5 302.5V299.8H444.2V302.5 M429.5 305.0V302.5H434.0V305.0 M438.0 305.0V302.5H446.0V305.0 M451.3 297.0V292.1H470.2V295.4 M448.3 302.5V297.0H455.0V302.5 M447.0 305.0V302.5H450.0V305.0 M453.0 305.0V302.5H457.0V305.0 M460.0 299.5V295.4H480.2V298.3 M458.7 305.0V299.5H462.0V305.0 M472.7 301.5V298.3H487.6V301.5 M469.0 303.5V301.5H477.0V303.5 M482.0 303.5V301.5H494.0V303.5 M490.0 305.0V303.5H498.2V305.0 M467.0 305.0V303.5H471.0V305.0 M480.0 305.0V303.5H485.0V305.0 M501.8 305.0V276.0H531.6V282.4 M508.4 295.4V282.4H554.6V290.1 M505.2 302.5V295.4H511.1V301.5 M504.0 305.0V302.5H507.0V305.0 M509.5 305.0V301.5H513.0V305.0 M535.3 297.3V290.1H573.4V292.3 M525.4 300.4V297.3H545.6V300.0 M520.0 303.0V300.4H530.0V303.0 M518.0 305.0V303.0H522.0V305.0 M528.0 305.0V303.0H533.0V305.0 M539.0 302.5V300.0H552.1V302.5 M536.0 305.0V302.5H542.0V305.0 M549.0 305.0V302.5H556.0V305.0 M566.2 305.0V292.3H580.5V295.4 M572.4 302.0V295.4H588.6V297.5 M570.5 305.0V302.0H574.5V305.0 M579.3 301.0V297.5H598.3V299.4 M578.0 305.0V301.0H581.0V305.0 M585.5 302.9V299.4H610.9V301.3 M583.0 305.0V302.9H588.0V305.0 M601.0 303.0V301.3H621.5V303.0 M598.0 305.0V303.0H605.0V305.0 M614.0 304.0V303.0H635.0V304.0 M611.0 305.0V304.0H617.0V305.0 M630.0 305.0V304.0H645.0V305.0" fill="none" stroke="#3a3a3a" stroke-width="0.9"/>
<rect x="43.70" y="308.80" width="6.90" height="37.75" fill="#00D5E0" />
<rect x="43.70" y="346.55" width="6.90" height="37.75" fill="#FF8C8C" />
<rect x="43.70" y="384.30" width="6.90" height="37.75" fill="#99CC00" />
<rect x="43.70" y="422.05" width="6.90" height="37.75" fill="#DDA0FF" />
<text x="0.23" y="278.07" font-size="18" font-weight="bold" fill="#000" >C</text>
<text x="-23.42" y="3.43" font-size="14.3" transform="translate(21.50 316.50) rotate(58)">AerPeg</text>
<text x="-25.31" y="3.70" font-size="14.3" transform="translate(22.60 355.60) rotate(58)">SubPeg</text>
<text x="-29.26" y="3.70" font-size="14.3" transform="translate(24.20 392.50) rotate(58)">ExpPod1</text>
<text x="-29.24" y="3.70" font-size="14.3" transform="translate(24.70 436.10) rotate(58)">ExpPod2</text>
<defs><linearGradient id="lg" x1="0" y1="0" x2="0" y2="1"><stop offset="0" stop-color="#f00"/><stop offset="0.5" stop-color="#fff"/><stop offset="1" stop-color="#00f"/></linearGradient></defs>
<rect x="652.40" y="304.00" width="5.70" height="82.50" fill="url(#lg)" />
<text x="660.49" y="306.41" font-size="14.2" fill="#000" >1.5</text>
<text x="660.49" y="320.33" font-size="14.2" fill="#000" >1</text>
<text x="660.58" y="334.18" font-size="14.2" fill="#000" >0.5</text>
<text x="660.58" y="348.03" font-size="14.2" fill="#000" >0</text>
<text x="660.51" y="361.88" font-size="14.2" fill="#000" >-0.5</text>
<text x="660.51" y="375.73" font-size="14.2" fill="#000" >-1</text>
<text x="660.51" y="389.51" font-size="14.2" fill="#000" >-1.5</text>
<text x="70.35" y="472.74" font-size="14.6" fill="#000" >Lignin</text>
<text x="142.05" y="472.74" font-size="14.6" fill="#000" >Cell wall</text>
<text x="219.77" y="472.74" font-size="14.6" fill="#000" >Hydrogen peroxide</text>
<text x="413.36" y="472.74" font-size="14.6" fill="#000" >Auxin</text>
<text x="527.59" y="472.74" font-size="14.6" fill="#000" >Photosynthesis</text>
</svg></body></html>
